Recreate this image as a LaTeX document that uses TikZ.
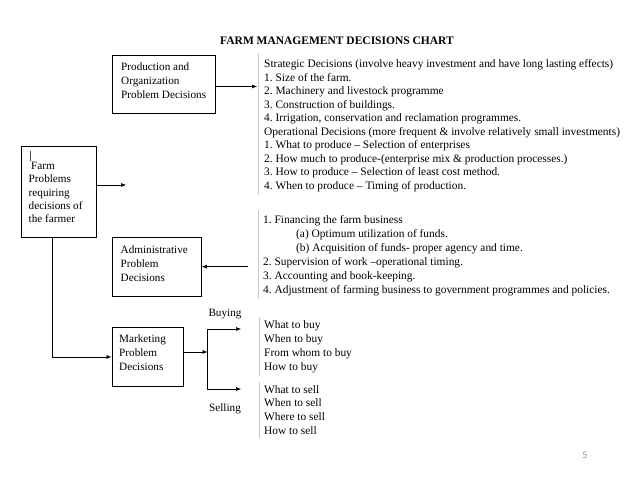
\documentclass[tikz,border=0pt]{standalone}
\usepackage{fontspec}
\setmainfont{Liberation Serif}
\newfontfamily\pagefont{Carlito}
\usetikzlibrary{arrows.meta}
\frenchspacing
\begin{document}
\begin{tikzpicture}[x=1pt,y=-1pt,
  boxn/.style={draw, line width=0.9pt, inner sep=0pt, anchor=north west},
  txt/.style={anchor=north west, inner sep=0pt, align=left, font=\fontsize{11.4}{13.6}\selectfont},
  btxt/.style={anchor=north west, inner sep=0pt, align=left, font=\fontsize{11.2}{13.8}\selectfont},
  lbl/.style={anchor=base, inner sep=0pt, font=\fontsize{11.2}{13.6}\selectfont},
  arr/.style={line width=0.6pt, -{Latex[length=5pt,width=4pt]}},
  bar/.style={draw=black!22, line width=0.8pt}]
\useasboundingbox[fill=white] (0,0) rectangle (638,478);

% title
\node[inner sep=0pt, font=\bfseries\fontsize{11.5}{13}\selectfont] (title) at (337,40.5) {FARM MANAGEMENT DECISIONS CHART};

% boxes
\node[boxn, minimum width=103pt, minimum height=58pt] (prod) at (112,55) {};
\node[boxn, minimum width=75pt, minimum height=91pt] (farm) at (21,146) {};
\node[boxn, minimum width=89pt, minimum height=59pt] (adm) at (112,237.5) {};
\node[boxn, minimum width=71pt, minimum height=59pt] (mkt) at (111.5,327) {};

% box texts
\node[btxt] (prodt) at (121,62.5) {Production and\\Organization\\Problem Decisions};
\node[btxt, font=\fontsize{11.2}{13.25}\selectfont] (farmt) at (28.5,162) {\hspace*{2.5pt}Farm\\Problems\\requiring\\decisions of\\the farmer};
\draw[line width=0.5pt, black!70] (30.5,151) -- (30.5,161);
\node[btxt, font=\fontsize{11.2}{14}\selectfont] (admt) at (120.5,246) {Administrative\\Problem\\Decisions};
\node[btxt, font=\fontsize{11.2}{14}\selectfont] (mktt) at (119,334.5) {Marketing\\Problem\\Decisions};

% lists
\node[txt, font=\fontsize{11.4}{13.5}\selectfont] (strat) at (264,59.3) {Strategic Decisions (involve heavy investment and have long lasting effects)\\
1. Size of the farm.\\
2. Machinery and livestock programme\\
3. Construction of buildings.\\
4. Irrigation, conservation and reclamation programmes.\\
Operational Decisions (more frequent \& involve relatively small investments)\\
1. What to produce -- Selection of enterprises\\
2. How much to produce-(enterprise mix \& production processes.)\\
3. How to produce -- Selection of least cost method.\\
4. When to produce -- Timing of production.};
\draw[bar] ([xshift=-6pt,yshift=6pt]strat.north west) -- ([xshift=-6pt,yshift=-3pt]strat.south west);

\node[txt, font=\fontsize{11.4}{14}\selectfont] (admlist) at (263,215) {1. Financing the farm business\\
\hspace*{33pt}(a) Optimum utilization of funds.\\
\hspace*{33pt}(b) Acquisition of funds- proper agency and time.\\
2. Supervision of work --operational timing.\\
3. Accounting and book-keeping.\\
4. Adjustment of farming business to government programmes and policies.};
\draw[bar] ([xshift=-5pt,yshift=5pt]admlist.north west) -- ([xshift=-5pt,yshift=-3pt]admlist.south west);

\node[txt, font=\fontsize{11.4}{14}\selectfont] (buy) at (264,320) {What to buy\\When to buy\\From whom to buy\\How to buy};
\draw[bar] ([xshift=-5pt,yshift=3pt]buy.north west) -- ([xshift=-5pt,yshift=-3pt]buy.south west);
\node[txt, font=\fontsize{11.4}{13.7}\selectfont] (sell) at (264,385) {What to sell\\When to sell\\Where to sell\\How to sell};
\draw[bar] ([xshift=-5pt,yshift=3pt]sell.north west) -- ([xshift=-5pt,yshift=-3pt]sell.south west);

\node[lbl] (buying) at (225,317) {Buying};
\node[lbl] (selling) at (225,411.5) {Selling};

% connectors
\coordinate (pe) at (257,86.5);
\draw[arr] (prod.east |- pe) -- (pe);
\coordinate (fe) at (126,185);
\draw[arr] (farm.east |- fe) -- (fe);
\coordinate (as) at (248,266.7);
\draw[arr] (as) -- (adm.east |- as);
\coordinate (fd) at (52,237);
\draw[arr] (fd) |- (mkt.west);
\coordinate (br) at (207.5,352);
\draw[arr] (mkt.east |- br) -- (br);
\coordinate (buyend) at (241,329);
\coordinate (sellend) at (241,389);
\draw[arr] (br) |- (buyend);
\draw[arr] (br) |- (sellend);

% page number
\node[inner sep=0pt, text=black!45, font=\pagefont\fontsize{10}{12}\selectfont] (pagenum) at (585,455) {5};
\end{tikzpicture}
\end{document}
